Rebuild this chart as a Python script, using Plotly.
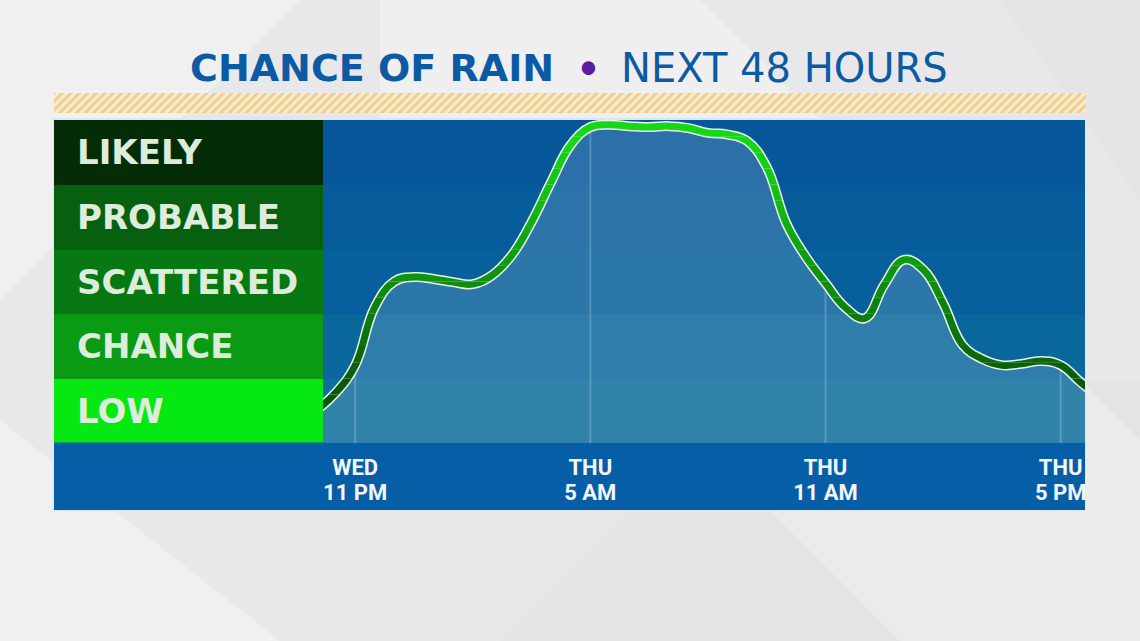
import plotly.graph_objects as go

# ---------------- data ----------------
# hours relative to Wed 11 PM (half-hour steps)
hours = [-1.0, -0.5, 0.0, 0.5, 1.0, 1.5, 2.0, 2.5, 3.0, 3.5, 4.0, 4.5, 5.0, 5.5,
         6.0, 6.5, 7.0, 7.5, 8.0, 8.5, 9.0, 9.5, 10.0, 10.5, 11.0, 11.5, 12.0,
         12.5, 13.0, 13.5, 14.0, 14.5, 15.0, 15.5, 16.0, 16.5, 17.0, 17.5, 18.0,
         18.5, 19.0]
rain_chance = [10, 15.5, 24, 42, 50, 51.4, 50.8, 49.8, 49.2, 52, 58.2, 68.4,
               80.8, 92.3, 97.8, 98.5, 98.1, 97.8, 98.1, 97.5, 96, 95.5, 93.5,
               85.4, 68, 57.6, 49.5, 42, 38.6, 49, 56.7, 53.6, 43.3, 30.3,
               26, 24.1, 24.5, 25.4, 24.1, 18.9, 14]

tick_hours = [0, 6, 12, 18]
tick_days = ["WED", "THU", "THU", "THU"]
tick_times = ["11 PM", "5 AM", "11 AM", "5 PM"]

categories = ["LOW", "CHANCE", "SCATTERED", "PROBABLE", "LIKELY"]
category_colors = ["#05e812", "#0a9a14", "#087812", "#06600f", "#042d07"]
row_blues = ["#0e6e9c", "#0a679c", "#07609b", "#065b9b", "#06579a"]

title_bold = "CHANCE OF RAIN"
title_light = "NEXT 48 HOURS"

# ---------------- geometry (pixels) ----------------
W, H = 1140, 641
def px(x):
    return x / W
def py(y):
    return 1 - y / H

PL, PR, PT, PB = 323, 1085, 120, 443      # plot area
LL = 54                                    # left edge of panel
BB = 510                                   # bottom of time band
X_RANGE = [-0.82, 18.62]

fig = go.Figure()

# background decoration (pixel paths converted to paper coords)
def poly(points):
    parts = []
    for i, (x, y) in enumerate(points):
        parts.append(("M" if i == 0 else "L") + f" {px(x):.4f} {py(y):.4f}")
    return " ".join(parts) + " Z"

shapes = []
bg_polys = [
    ([(0, 0), (300, 0), (0, 300)], "rgba(255,255,255,0.35)"),
    ([(380, 0), (700, 0), (1140, 440), (1140, 641), (900, 641), (380, 120)], "rgba(255,255,255,0.30)"),
    ([(0, 420), (280, 641), (0, 641)], "rgba(255,255,255,0.35)"),
    ([(500, 641), (760, 380), (1140, 380), (1140, 641)], "rgba(215,215,219,0.18)"),
    ([(1000, 0), (1140, 0), (1140, 200)], "rgba(215,215,219,0.18)"),
]
for pts, col in bg_polys:
    shapes.append(dict(type="path", path=poly(pts), xref="paper", yref="paper",
                       fillcolor=col, line_width=0, layer="below"))

# panel frame (light line)
shapes.append(dict(type="rect", xref="paper", yref="paper",
                   x0=px(LL - 1), x1=px(PR + 1), y0=py(BB + 1), y1=py(PT - 2),
                   fillcolor="#dfe7ee", line_width=0, layer="below"))
# base fills to avoid seams
shapes.append(dict(type="rect", xref="paper", yref="paper",
                   x0=px(PL), x1=px(PR), y0=py(PB), y1=py(PT),
                   fillcolor=row_blues[2], line_width=0, layer="below"))
shapes.append(dict(type="rect", xref="paper", yref="paper",
                   x0=px(LL), x1=px(PL), y0=py(PB), y1=py(PT),
                   fillcolor=category_colors[2], line_width=0, layer="below"))

band_h = (PB - PT) / 5
for i in range(5):
    y_bot = PB - i * band_h + (0.5 if i > 0 else 0)
    y_top = PB - (i + 1) * band_h - (0.5 if i < 4 else 0)
    shapes.append(dict(type="rect", xref="paper", yref="paper",
                       x0=px(LL), x1=px(PL), y0=py(y_bot), y1=py(y_top),
                       fillcolor=category_colors[i], line_width=0, layer="below"))
    shapes.append(dict(type="rect", xref="paper", yref="paper",
                       x0=px(PL), x1=px(PR), y0=py(y_bot), y1=py(y_top),
                       fillcolor=row_blues[i], line_width=0, layer="below"))
# time band
shapes.append(dict(type="rect", xref="paper", yref="paper",
                   x0=px(LL), x1=px(PR), y0=py(BB), y1=py(PB - 0.5),
                   fillcolor="#065ea6", line_width=0, layer="below"))

SMOOTH = 1.2

# ---------------- traces ----------------
# area under the curve
fig.add_trace(go.Scatter(x=hours, y=rain_chance, mode="lines",
                         line=dict(width=0, shape="spline", smoothing=SMOOTH),
                         fill="tozeroy", fillcolor="rgba(255,255,255,0.15)",
                         hoverinfo="skip", showlegend=False))
# vertical grid lines under the curve
for th in tick_hours:
    v = rain_chance[hours.index(float(th))]
    fig.add_trace(go.Scatter(x=[th, th], y=[0, v], mode="lines",
                             line=dict(color="rgba(255,255,255,0.2)", width=2),
                             hoverinfo="skip", showlegend=False))
# white outline
fig.add_trace(go.Scatter(x=hours, y=rain_chance, mode="lines",
                         line=dict(color="#e8f4e8", width=10, shape="spline", smoothing=SMOOTH),
                         hoverinfo="skip", showlegend=False))

# green line coloured by value (one clipped copy per value slice)
n_slices = 20
dark = (10, 88, 12)
bright = (22, 215, 22)
layout_axes = {}
for k in range(n_slices):
    lo = 100 * k / n_slices
    hi = 100 * (k + 1) / n_slices
    mid = (lo + hi) / 2
    t = min(max((mid - 18) / (92 - 18), 0), 1)
    col = "rgb(%d,%d,%d)" % tuple(round(dark[j] + (bright[j] - dark[j]) * t) for j in range(3))
    ax = k + 2
    y0 = PB - (PB - PT) * lo / 100
    y1 = PB - (PB - PT) * hi / 100
    hi_r = hi
    if k == n_slices - 1:
        y1 = PT - 6
        hi_r = hi + 6 * 100 / (PB - PT)
    layout_axes[f"yaxis{ax}"] = dict(domain=[py(y0), py(y1)], range=[lo, hi_r],
                                     anchor="x", visible=False, fixedrange=True)
    fig.add_trace(go.Scatter(x=hours, y=rain_chance, mode="lines", yaxis=f"y{ax}",
                             line=dict(color=col, width=7, shape="spline", smoothing=SMOOTH),
                             hoverinfo="skip", showlegend=False))

# time labels (clipped to the panel)
tax = n_slices + 2
layout_axes[f"yaxis{tax}"] = dict(domain=[py(BB), py(PB)], range=[0, 1],
                                  anchor="x", visible=False, fixedrange=True)
fig.add_trace(go.Scatter(x=tick_hours, y=[0.6] * 4, mode="text", yaxis=f"y{tax}",
                         text=[f"<b>{d}</b>" for d in tick_days],
                         textfont=dict(family="Roboto", size=22, color="#f2f6fa"),
                         textposition="middle center", cliponaxis=True,
                         hoverinfo="skip", showlegend=False))
fig.add_trace(go.Scatter(x=tick_hours, y=[0.23] * 4, mode="text", yaxis=f"y{tax}",
                         text=[f"<b>{t}</b>" for t in tick_times],
                         textfont=dict(family="Roboto", size=22, color="#f2f6fa"),
                         textposition="middle center", cliponaxis=True,
                         hoverinfo="skip", showlegend=False))

# hatched band
hax = tax + 1
layout_axes["xaxis2"] = dict(domain=[px(LL), px(PR + 1)], range=[0, 1], anchor=f"y{hax}",
                             visible=False, fixedrange=True)
layout_axes[f"yaxis{hax}"] = dict(domain=[py(113), py(93)], range=[0, 1], anchor="x2",
                                  visible=False, fixedrange=True)
fig.add_trace(go.Scatter(x=[0, 1, 1, 0, 0], y=[0, 0, 1, 1, 0], mode="lines",
                         xaxis="x2", yaxis=f"y{hax}", fill="toself",
                         fillcolor="#f5ecd8", line=dict(width=0),
                         fillpattern=dict(shape="/", fgcolor="#efb032", bgcolor="#f5ecd8",
                                          size=6, solidity=0.5),
                         hoverinfo="skip", showlegend=False))

# ---------------- annotations ----------------
annotations = []
for i, name in enumerate(categories):
    yc = PB - (i + 0.5) * band_h
    annotations.append(dict(x=px(75), y=py(yc), xref="paper", yref="paper",
                            text=f"<b>{name}</b>", showarrow=False, xanchor="left",
                            yanchor="middle",
                            font=dict(family="DejaVu Sans", size=34, color="#deecdc")))
annotations.append(dict(x=px(372), y=py(68), xref="paper", yref="paper",
                        text=f"<b>{title_bold}</b>", showarrow=False,
                        xanchor="center", yanchor="middle",
                        font=dict(family="DejaVu Sans", size=38, color="#0b5aa3")))
annotations.append(dict(x=px(588), y=py(65), xref="paper", yref="paper",
                        text="•", showarrow=False, xanchor="center", yanchor="middle",
                        font=dict(family="Lato", size=36, color="#5a1d9e")))
annotations.append(dict(x=px(784), y=py(68), xref="paper", yref="paper",
                        text=title_light, showarrow=False,
                        xanchor="center", yanchor="middle",
                        font=dict(family="DejaVu Sans", size=40, color="#0b5aa3")))

fig.update_layout(
    width=W, height=H, margin=dict(l=0, r=0, t=0, b=0),
    paper_bgcolor="#e8e8ea", plot_bgcolor="rgba(0,0,0,0)",
    showlegend=False, shapes=shapes, annotations=annotations,
    xaxis=dict(domain=[px(PL), px(PR)], range=X_RANGE, visible=False, fixedrange=True,
               anchor="y"),
    yaxis=dict(domain=[py(PB), py(PT)], range=[0, 100], visible=False, fixedrange=True,
               anchor="x"),
    **layout_axes,
)

fig.write_html("out.html")
